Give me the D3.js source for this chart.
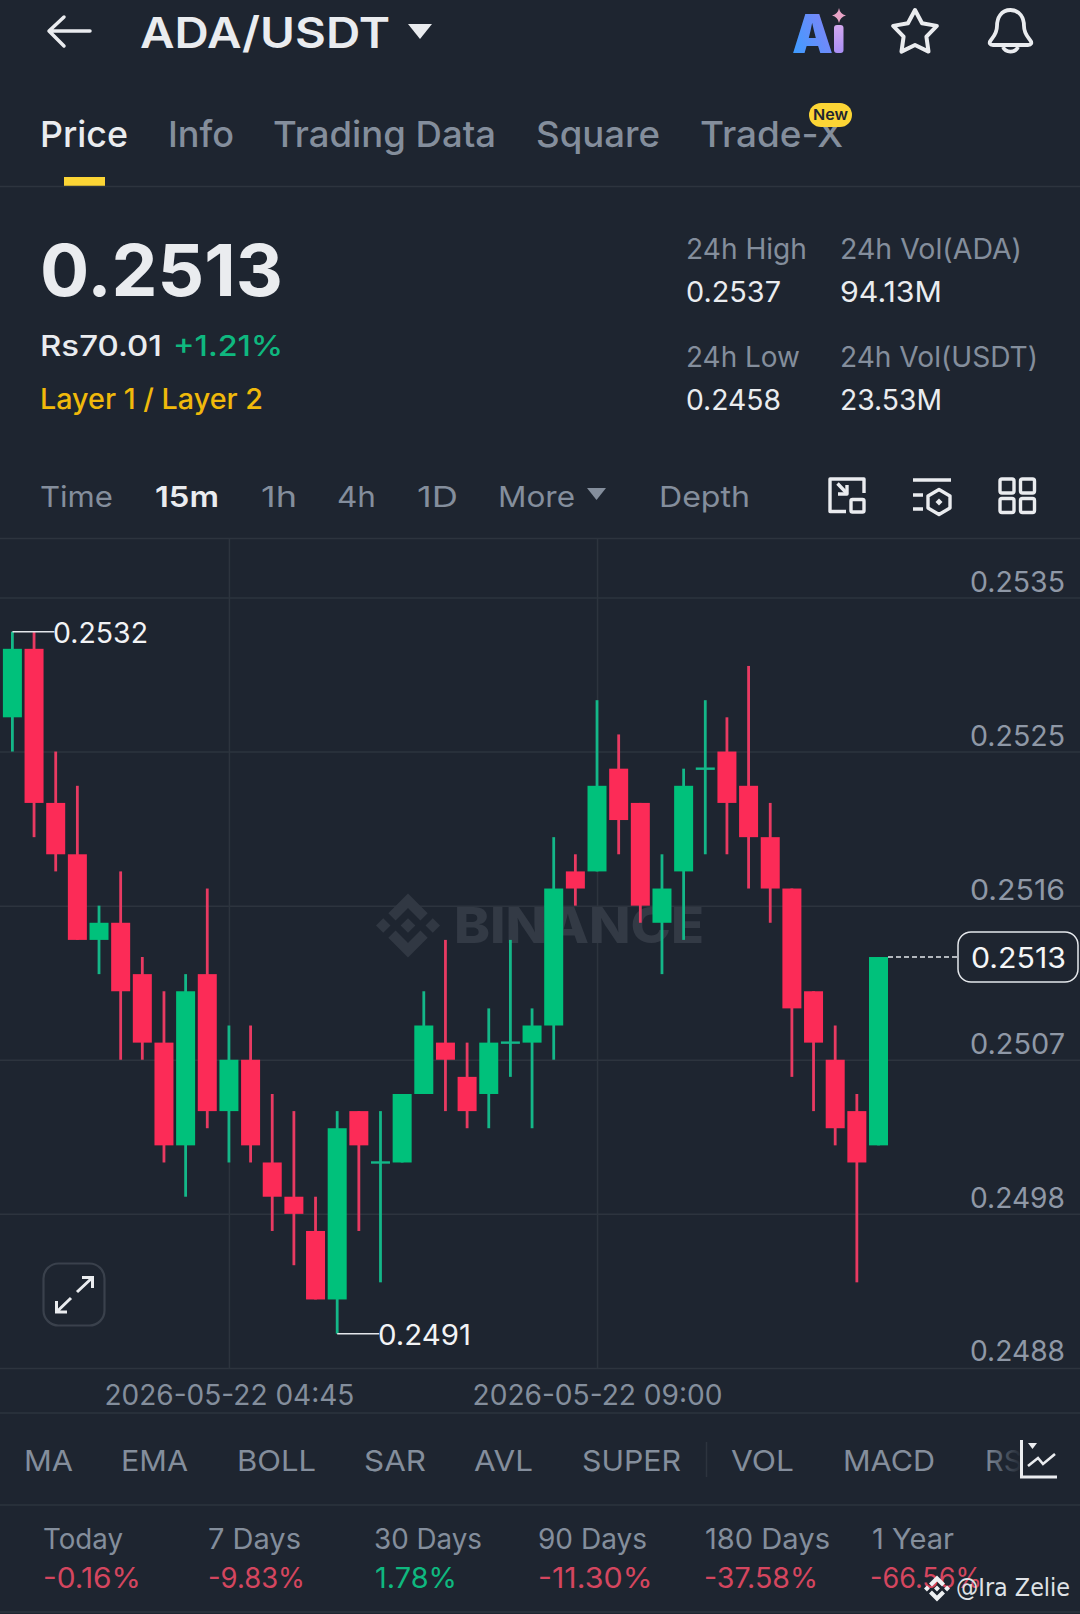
<!DOCTYPE html>
<html><head><meta charset="utf-8">
<script src="https://cdn.jsdelivr.net/npm/d3@7/dist/d3.min.js"></script>
<style>html,body{margin:0;padding:0;background:#1e2530}svg{display:block}text{font-family:Inter,"Noto Sans",sans-serif}</style>
</head><body>
<script>
// ---------- DATA ----------
const open  = [.2527,.2531,.2522,.2519,.2514,.2515,.2512,.2508,.2502,.2512,.2504,.2507,.2501,.2499,.2497,.2493,.2504,.2501,.2501,.2505,.2508,.2506,.2505,.2508,.2508,.2509,.2518,.2518,.2524,.2522,.2515,.2518,.2524,.2525,.2523,.2520,.2517,.2511,.2507,.2504,.2502];
const close = [.2531,.2522,.2519,.2514,.2515,.2511,.2508,.2502,.2511,.2504,.2507,.2502,.2499,.2498,.2493,.2503,.2502,.2501,.2505,.2509,.2507,.2504,.2508,.2508,.2509,.2517,.2517,.2523,.2521,.2516,.2517,.2523,.2524,.2522,.2520,.2517,.2510,.2508,.2503,.2501,.2513];
const high  = [.2532,.2532,.2525,.2523,.2516,.2518,.2513,.2511,.2512,.2517,.2509,.2509,.2505,.2504,.2499,.2504,.2504,.2504,.2505,.2511,.2514,.2508,.2510,.2514,.2510,.2520,.2519,.2528,.2526,.2522,.2519,.2524,.2528,.2527,.2530,.2522,.2517,.2511,.2509,.2505,.2513];
const low   = [.2525,.2520,.2518,.2514,.2512,.2507,.2507,.2501,.2499,.2503,.2501,.2501,.2497,.2495,.2493,.2491,.2497,.2494,.2501,.2505,.2504,.2503,.2503,.2506,.2503,.2507,.2516,.2518,.2519,.2515,.2512,.2514,.2519,.2519,.2517,.2515,.2506,.2504,.2502,.2494,.2502];
const priceTicks = [.2534,.2525,.2516,.2507,.2498,.2489];
const priceTickLabels = ["0.2535","0.2525","0.2516","0.2507","0.2498","0.2488"];
const timeTickIndex = [10,27];
const timeTickLabels = ["2026-05-22 04:45","2026-05-22 09:00"];
const lastPrice = .2513, maxPrice = .2532, minPrice = .2491;
const navTabs = ["Price","Info","Trading Data","Square","Trade-X"];
const intervals = ["Time","15m","1h","4h","1D","More","Depth"];
const indicators = ["MA","EMA","BOLL","SAR","AVL","SUPER","VOL","MACD"];
const periodNames = ["Today","7 Days","30 Days","90 Days","180 Days","1 Year"];
const periodChanges = ["-0.16%","-9.83%","1.78%","-11.30%","-37.58%","-66.56%"];
const statNames = ["24h High","24h Vol(ADA)","24h Low","24h Vol(USDT)"];
const statValues = ["0.2537","94.13M","0.2458","23.53M"];

// ---------- LAYOUT ----------
const W=1080,H=1614,BG="#1e2530",LINE="#2d343e",GREY="#848e9c",LIGHT="#eaecef";
const GREEN="#00c17b",RED="#fc2b57",WG="#14b788",WR="#e93a62",SOFTRED="#d4465f";
const svg=d3.select("body").append("svg").attr("width",W).attr("height",H).attr("viewBox",`0 0 ${W} ${H}`);
svg.append("rect").attr("width",W).attr("height",H).attr("fill",BG);
const defs=svg.append("defs");
const ai=defs.append("linearGradient").attr("id","aig").attr("x1",0).attr("y1",.7).attr("x2",1).attr("y2",0);
ai.append("stop").attr("offset","0").attr("stop-color","#3f9bff");
ai.append("stop").attr("offset","1").attr("stop-color","#8f7ff5");
const aii=defs.append("linearGradient").attr("id","aii").attr("x1",0).attr("y1",0).attr("x2",0).attr("y2",1);
aii.append("stop").attr("offset","0").attr("stop-color","#d2a8ee");
aii.append("stop").attr("offset","1").attr("stop-color","#a98ff5");
const fade=defs.append("linearGradient").attr("id","fade");
fade.append("stop").attr("offset","0").attr("stop-color",GREY);
fade.append("stop").attr("offset","1").attr("stop-color",GREY).attr("stop-opacity",0);

function txt(g,s,x0,x1,base,size,fill,weight=400){
  return g.append("text").attr("x",x0-1).attr("y",base).attr("font-size",size).attr("font-weight",weight)
    .attr("fill",fill).attr("textLength",x1-x0+2).attr("lengthAdjust","spacingAndGlyphs").text(s);
}
function hline(g,y){g.append("line").attr("x1",0).attr("x2",W).attr("y1",y).attr("y2",y).attr("stroke",LINE).attr("stroke-width",1.5);}
// Binance mark, drawn in a 126.61 unit box
function logo(g,cx,cy,size,fill){
  const k=size/126.61;
  g.append("path").attr("transform",`translate(${cx-size/2},${cy-size/2}) scale(${k})`).attr("fill",fill)
   .attr("d","M38.73 53.2L63.31 28.62L87.9 53.21L102.2 38.91L63.31 0L24.42 38.9ZM0 63.31L14.3 49L28.61 63.31L14.3 77.61ZM38.73 73.41L63.31 98L87.9 73.4L102.21 87.69L63.31 126.61L24.42 87.72ZM98 63.31L112.3 49L126.61 63.31L112.3 77.62ZM77.83 63.3L63.31 48.78L48.8 63.28L63.31 77.83Z");
}
const ui=svg.append("g");

// header
ui.append("path").attr("d","M90 31H50M64 17L49 31L64 46").attr("fill","none").attr("stroke",LIGHT).attr("stroke-width",3.5).attr("stroke-linecap","round").attr("stroke-linejoin","round");
txt(ui,"ADA/USDT",141,389,48,43,LIGHT,600);
ui.append("path").attr("d","M408 24H432L420 39Z").attr("fill",LIGHT);
ui.append("text").attr("x",792).attr("y",53).attr("font-size",54).attr("font-weight",900).attr("fill","url(#aig)").attr("textLength",41).attr("lengthAdjust","spacingAndGlyphs").text("A");
ui.append("rect").attr("x",834).attr("y",25).attr("width",9.5).attr("height",28).attr("rx",3).attr("fill","url(#aii)");
ui.append("path").attr("d","M839 8Q840 14 846 15.5Q840 17 839 23Q838 17 832 15.5Q838 14 839 8Z").attr("fill","#e8a4c6");
const starPts=d3.range(10).map(i=>{const r=i%2?12:23,a=-Math.PI/2+i*Math.PI/5;return [915+r*Math.cos(a),33+r*Math.sin(a)];});
ui.append("path").attr("d",d3.line()(starPts)+"Z").attr("fill","none").attr("stroke",LIGHT).attr("stroke-width",4).attr("stroke-linejoin","round");
ui.append("path").attr("d","M1010.5 10C1001 10 997 18 997 26C997 33 994 36 991 40C988.5 43 990 45 993 45H1028C1031 45 1032.5 43 1030 40C1027 36 1024 33 1024 26C1024 18 1020 10 1010.5 10ZM1003 47A8 7 0 0 0 1018 47").attr("fill","none").attr("stroke",LIGHT).attr("stroke-width",3.8).attr("stroke-linejoin","round");

// nav tabs
const navX=[[41,127],[169,233],[274,495],[537,659],[701,842]];
navTabs.forEach((t,i)=>txt(ui,t,navX[i][0],navX[i][1],147,36,i===0?LIGHT:GREY,500));
ui.append("rect").attr("x",64).attr("y",177).attr("width",41).attr("height",9).attr("fill","#fcd535");
ui.append("rect").attr("x",809).attr("y",103).attr("width",43).attr("height",24).attr("rx",12).attr("fill","#fcd535");
txt(ui,"New",814,847,120,15,"#1e2530",600);
hline(ui,186.5);

// price block
txt(ui,"0.2513",41,282,295.5,72,LIGHT,700);
txt(ui,"Rs70.01",41,161,356,29,LIGHT,500);
txt(ui,"+1.21%",174,282,356,29,"#0fb87f",500);
txt(ui,"Layer 1 / Layer 2",41,262,409,28,"#f0b90b",500);
const statX=[[687,806],[841,1021],[687,799],[841,1037]],statValX=[[687,780],[841,941],[687,780],[841,941]];
statNames.forEach((t,i)=>txt(ui,t,statX[i][0],statX[i][1],i<2?259:367,28,GREY));
statValues.forEach((t,i)=>txt(ui,t,statValX[i][0],statValX[i][1],i<2?302:410,28,LIGHT));

// interval row
const intX=[[41,112],[156,218],[262,296],[338,375],[418,457],[499,574],[660,749]];
intervals.forEach((t,i)=>txt(ui,t,intX[i][0],intX[i][1],507,29,i===1?LIGHT:GREY,i===1?600:400));
ui.append("path").attr("d","M587 488H606L596.5 500Z").attr("fill",GREY);
const ic=ui.append("g").attr("fill","none").attr("stroke",LIGHT).attr("stroke-width",3.4).attr("stroke-linejoin","round");
ic.append("path").attr("d","M846 511.5H830V479H864V493M837.5 483.5L847 493.5");
ic.append("path").attr("d","M847 485V494H838");
ic.append("rect").attr("x",851).attr("y",499.5).attr("width",13).attr("height",12.5).attr("rx",1.5);
ic.append("path").attr("d","M913 480H951M913 495H923M913 509H923M939 489.5L950 496V508L939 514.5L928 508V496Z");
ic.append("path").attr("d","M939 498.5L942.5 502L939 505.5L935.5 502Z").attr("fill",LIGHT).attr("stroke","none");
[[1000,479],[1020.5,479],[1000,498.5],[1020.5,498.5]].forEach(p=>ic.append("rect").attr("x",p[0]).attr("y",p[1]).attr("width",14).attr("height",14).attr("rx",2));
hline(ui,538.5);

// ---------- CHART ----------
const y=d3.scaleLinear().domain([minPrice,maxPrice]).range([1333.7,631.7]);
const x=d3.scaleLinear().domain([0,open.length-1]).range([12.4,878.5]);
const chartTop=539,chartBottom=1368.5;

const yAxis=d3.axisLeft(y).tickValues(priceTicks).tickFormat((d,i)=>priceTickLabels[i]).tickSize(W).tickPadding(0);
const ya=svg.append("g").attr("transform",`translate(${W},0)`).call(yAxis);
ya.select(".domain").remove();
ya.selectAll("line").attr("stroke",LINE).attr("stroke-width",1.5);
ya.selectAll("text").attr("x",-15).attr("dy",0).attr("y",(d,i)=>i===5?-7.5:-6).attr("text-anchor","end").attr("fill","#8f98a6")
  .attr("font-size",28).attr("font-family",'Inter,sans-serif').attr("textLength",95).attr("lengthAdjust","spacingAndGlyphs");

const xAxis=d3.axisBottom(x).tickValues(timeTickIndex).tickFormat((d,i)=>timeTickLabels[i]).tickSize(chartTop-chartBottom).tickPadding(0);
const xa=svg.append("g").attr("transform",`translate(0,${chartBottom})`).call(xAxis);
xa.select(".domain").remove();
xa.selectAll("line").attr("stroke",LINE).attr("stroke-width",1.5);
xa.selectAll("text").attr("y",36.5).attr("dy",0).attr("text-anchor","middle").attr("fill",GREY)
  .attr("font-size",28).attr("font-family",'Inter,sans-serif').attr("textLength",250).attr("lengthAdjust","spacingAndGlyphs");

// watermark
const wm=svg.append("g");
logo(wm,408,925.5,64,"#313843");
txt(wm,"BINANCE",455,703,943,50,"#333a45",800);

// candles
const idx=d3.range(open.length);
const isUp=i=>close[i]>=open[i];
const candles=svg.append("g");
candles.selectAll("line.wick").data(idx).join("line").attr("class","wick")
  .attr("x1",x).attr("x2",x).attr("y1",i=>y(high[i])).attr("y2",i=>y(low[i]))
  .attr("stroke",i=>isUp(i)?WG:WR).attr("stroke-width",2.8);
const bw=19;
candles.selectAll("rect.body").data(idx).join("rect").attr("class","body")
  .attr("x",i=>x(i)-bw/2).attr("width",bw)
  .attr("y",i=>open[i]===close[i]?y(open[i])-1.2:y(Math.max(open[i],close[i])))
  .attr("height",i=>open[i]===close[i]?2.4:Math.abs(y(open[i])-y(close[i])))
  .attr("fill",i=>isUp(i)?(open[i]===close[i]?WG:GREEN):RED);

// hi / lo annotations
const iMax=high.indexOf(maxPrice),iMin=low.indexOf(minPrice);
const ann=svg.append("g");
ann.append("line").attr("x1",x(iMax)).attr("x2",x(iMax)+42).attr("y1",y(maxPrice)).attr("y2",y(maxPrice)).attr("stroke","#e4e7eb").attr("stroke-width",1.6);
txt(ann,d3.format(".4f")(maxPrice),54,147,y(maxPrice)+11,28,"#f2f3f5");
ann.append("line").attr("x1",x(iMin)).attr("x2",x(iMin)+42).attr("y1",y(minPrice)).attr("y2",y(minPrice)).attr("stroke","#e4e7eb").attr("stroke-width",1.6);
txt(ann,d3.format(".4f")(minPrice),379,470,y(minPrice)+11.5,28,"#f2f3f5");

// last price tag
const lastY=y(lastPrice);
ann.append("line").attr("x1",x(open.length-1)+bw/2).attr("x2",958).attr("y1",lastY).attr("y2",lastY).attr("stroke","#e4e7eb").attr("stroke-width",1.5).attr("stroke-dasharray","5 3");
ann.append("rect").attr("x",958).attr("y",lastY-25).attr("width",120).attr("height",50).attr("rx",13).attr("fill",BG).attr("stroke","#e4e7eb").attr("stroke-width",1.5);
txt(ann,d3.format(".4f")(lastPrice),972,1065,lastY+10.5,28,"#f5f6f7");

// expand button
ann.append("rect").attr("x",43.5).attr("y",1263.5).attr("width",61).attr("height",62).attr("rx",15).attr("fill",BG).attr("stroke","#3a414c").attr("stroke-width",2.2);
ann.append("path").attr("d","M77 1292L92.5 1277.5M82 1277.5H92.5V1288M71 1298L56.5 1312M56.5 1301V1312H67").attr("fill","none").attr("stroke",LIGHT).attr("stroke-width",3);

// ---------- FOOTER ----------
hline(ui,1413);
const indX=[[25,72],[122,187],[238,315],[365,425],[475,532],[583,680],[732,793],[844,934]];
indicators.forEach((t,i)=>txt(ui,t,indX[i][0],indX[i][1],1471,29,GREY));
ui.append("text").attr("x",985).attr("y",1471).attr("font-size",29).attr("fill","url(#fade)").text("RS");
ui.append("line").attr("x1",706.5).attr("x2",706.5).attr("y1",1442).attr("y2",1477).attr("stroke",LINE).attr("stroke-width",1.5);
ui.append("path").attr("d","M1021.5 1440V1477H1057").attr("fill","none").attr("stroke",LIGHT).attr("stroke-width",3);
ui.append("path").attr("d","M1028 1466L1038 1458L1043 1464L1055 1454").attr("fill","none").attr("stroke",LIGHT).attr("stroke-width",2.6);
ui.append("path").attr("d","M1028 1443H1037L1032.5 1449Z").attr("fill",LIGHT);
hline(ui,1505);
const perX=[[44,122],[209,300],[375,481],[539,646],[706,829],[873,953]];
const chgX=[[44,140],[209,304],[376,456],[539,651.5],[705,817],[871,981]];
periodNames.forEach((t,i)=>txt(ui,t,perX[i][0],perX[i][1],1548.5,28,GREY));
periodChanges.forEach((t,i)=>txt(ui,t,chgX[i][0],chgX[i][1],1588,28,t[0]==="-"?SOFTRED:"#0fb87f"));
hline(ui,1612);
// source stamp
const st=svg.append("g");
logo(st,937,1588.5,26,"#eef0f2");
txt(st,"@Ira Zelie",957,1069,1596,24,"#dfe2e6").style("font-family",'"DejaVu Sans",sans-serif');
</script>
</body></html>
